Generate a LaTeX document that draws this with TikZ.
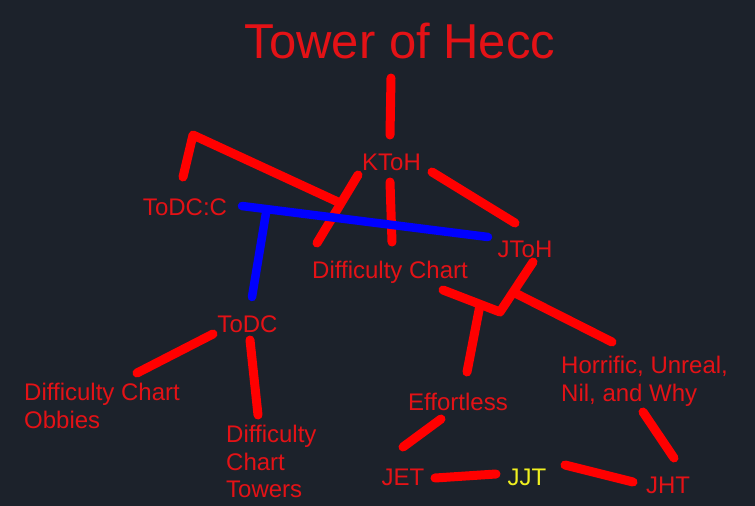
\documentclass[tikz,border=0pt]{standalone}
\usepackage{fontspec}
\setmainfont{Liberation Sans}
\definecolor{bg}{RGB}{28,34,43}
\definecolor{txtred}{RGB}{228,18,22}
\definecolor{linered}{RGB}{255,0,0}
\definecolor{lineblue}{RGB}{0,0,255}
\definecolor{txtyellow}{RGB}{240,240,32}
\begin{document}
\begin{tikzpicture}[x=1pt,y=-1pt,
  lbl/.style={text=txtred,inner sep=0pt,font=\fontsize{24}{27.5}\selectfont},
  redline/.style={draw=linered,line width=9pt,line cap=round,line join=round},
  blueline/.style={draw=lineblue,line width=8.5pt,line cap=round,line join=round}]
\useasboundingbox (0,0) rectangle (755,506);
\fill[bg] (0,0) rectangle (755,506);
% texts
\node[lbl,anchor=base,font=\fontsize{49}{55}\selectfont] (title) at (400,58) {Tower of Hecc};
\node[lbl,anchor=base] (ktoh) at (391.5,170) {KToH};
\node[lbl,anchor=base] (todcc) at (185,215) {ToDC:C};
\node[lbl,anchor=base] (jtoh) at (525,257) {JToH};
\node[lbl,anchor=base] (dc) at (390,278) {Difficulty Chart};
\node[lbl,anchor=base] (todc) at (247.5,332) {ToDC};
\node[lbl,anchor=north west,align=left] (dco) at (24,383) {Difficulty Chart\\Obbies};
\node[lbl,anchor=north west,align=left] (dct) at (226,425) {Difficulty\\Chart\\Towers};
\node[lbl,anchor=base] (eff) at (458,410) {Effortless};
\node[lbl,anchor=north west,align=left] (huw) at (561,356) {Horrific, Unreal,\\Nil, and Why};
\node[lbl,anchor=base] (jet) at (403,485) {JET};
\node[lbl,anchor=base,text=txtyellow] (jjt) at (527,485) {JJT};
\node[lbl,anchor=base] (jht) at (668,493) {JHT};
% connector end points
\coordinate (t1) at (391,78);   \coordinate (t2) at (390,135);
\coordinate (b1) at (183,177);  \coordinate (b2) at (193,135);  \coordinate (b3) at (338,202);
\coordinate (k1a) at (358,175); \coordinate (k1b) at (317,243);
\coordinate (k2a) at (390,182); \coordinate (k2b) at (392,242);
\coordinate (k3a) at (432,172); \coordinate (k3b) at (515,223);
\coordinate (u1) at (242,206);  \coordinate (u2) at (488,237);
\coordinate (u3) at (266,213);  \coordinate (u4) at (252,297);
\coordinate (o1) at (213,334);  \coordinate (o2) at (137,373);
\coordinate (w1) at (250,340);  \coordinate (w2) at (258,415);
\coordinate (v1) at (443,290);  \coordinate (v2) at (500,312);  \coordinate (v3) at (533,262);
\coordinate (c1) at (515,293);  \coordinate (c2) at (612,342);
\coordinate (d1) at (480,305);  \coordinate (d2) at (467,372);
\coordinate (h1) at (643,412);  \coordinate (h2) at (674,458);
\coordinate (e1) at (441,419);  \coordinate (e2) at (403,447);
\coordinate (j1) at (435,478);  \coordinate (j2) at (496,474);
\coordinate (j3) at (565,465);  \coordinate (j4) at (633,482);
% red connectors
\draw[redline] (t1) -- (t2);
\draw[redline] (b1) -- (b2) -- (b3);
\draw[redline] (k1a) -- (k1b);
\draw[redline] (k2a) -- (k2b);
\draw[redline] (k3a) -- (k3b);
\draw[redline] (o1) -- (o2);
\draw[redline] (w1) -- (w2);
\draw[redline] (v1) -- (v2) -- (v3);
\draw[redline] (c1) -- (c2);
\draw[redline] (d1) -- (d2);
\draw[redline] (h1) -- (h2);
\draw[redline] (e1) -- (e2);
\draw[redline] (j1) -- (j2);
\draw[redline] (j3) -- (j4);
% blue connectors
\draw[blueline] (u1) -- (u2);
\draw[blueline] (u3) -- (u4);
\end{tikzpicture}
\end{document}
